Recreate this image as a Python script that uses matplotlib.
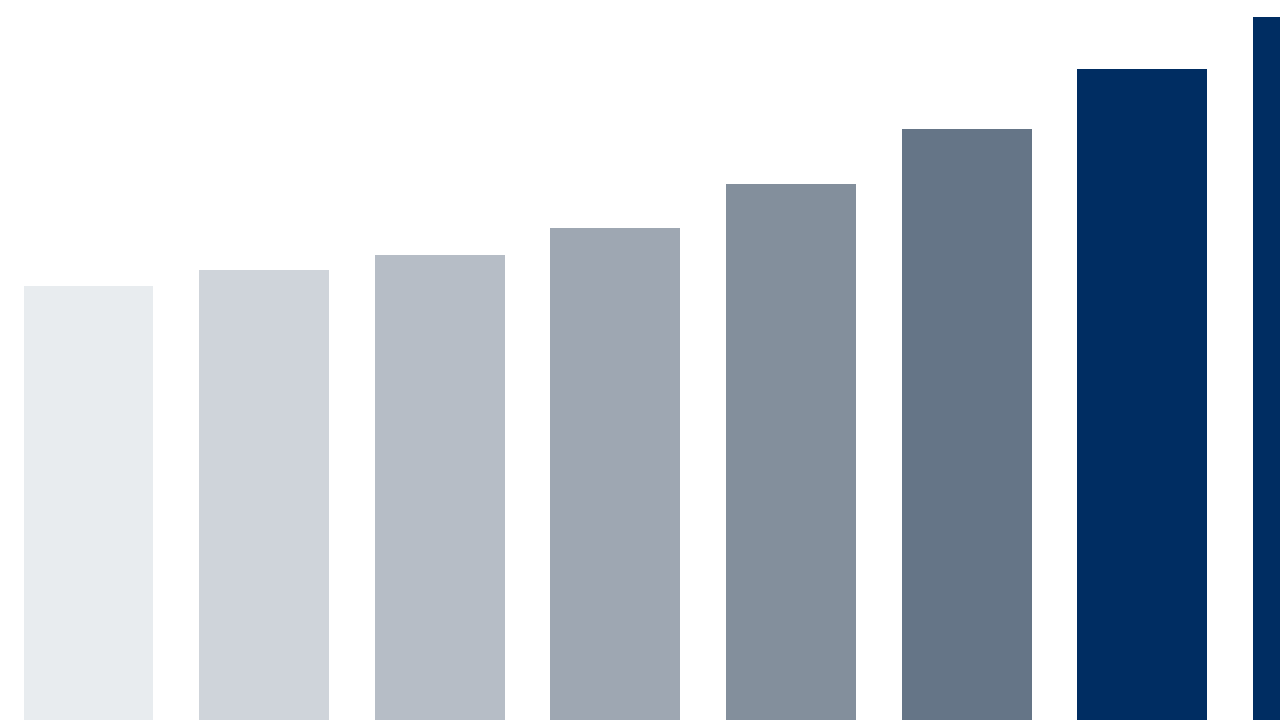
import matplotlib
matplotlib.use("Agg")
import matplotlib.pyplot as plt

# bar heights (arbitrary units)
positions = [0, 1, 2, 3, 4, 5, 6, 7]
heights = [43.4, 45.0, 46.5, 49.2, 53.6, 59.1, 65.1, 70.3]
colors = ["#e8ecef", "#cfd4da", "#b6bdc6", "#9ea7b2",
          "#838f9c", "#657587", "#002d62", "#002d62"]

fig = plt.figure(figsize=(12.8, 7.2), dpi=100)
ax = fig.add_axes([0, 0, 1, 1])

ax.bar(positions, heights, width=0.74, color=colors, linewidth=0)

ax.set_xlim(-0.504, 6.785)
ax.set_ylim(0, 72)
ax.axis("off")

fig.savefig("out.png", dpi=100, facecolor="white")
